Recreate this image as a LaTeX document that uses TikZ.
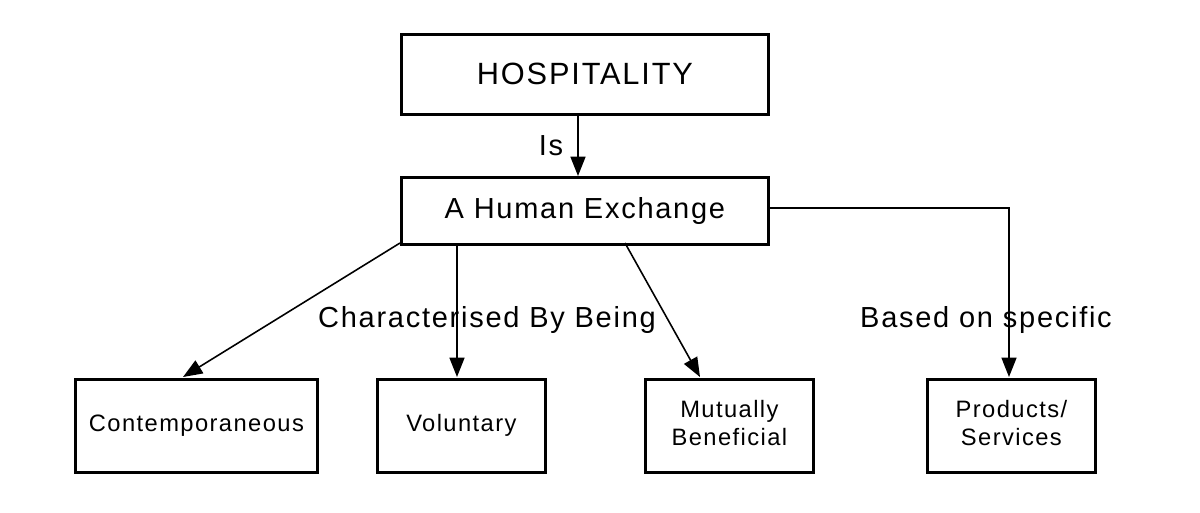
\documentclass[tikz,border=0pt]{standalone}
\usepackage{fontspec}
\setmainfont{Liberation Sans}[LetterSpace=6]
\usetikzlibrary{arrows.meta}
\newcommand{\lowtxt}[1]{\raisebox{-0.24cm}{\begin{tabular}{@{}c@{}}#1\end{tabular}}}
\begin{document}
\begin{tikzpicture}[x=0.02cm,y=-0.02cm,
  box/.style={draw,line width=1.6pt,inner sep=0pt,anchor=north west},
  small/.style={font=\fontsize{13.5}{16}\selectfont},
  big/.style={font=\fontsize{16.5}{20}\selectfont},
  arr/.style={line width=0.9pt,-{Triangle[length=11pt,width=8.5pt]}}]
\useasboundingbox (0,0) rectangle (1200,512);
\node[box,minimum width=367*0.02cm,minimum height=80*0.02cm,font=\fontsize{17.5}{21}\selectfont] (hosp) at (400,33) {HOSPITALITY};
\node[box,minimum width=367*0.02cm,minimum height=67*0.02cm,big] (hx) at (400,176) {A Human Exchange};
\node[box,minimum width=242*0.02cm,minimum height=93*0.02cm,small] (c) at (74,378) {\lowtxt{Contemporaneous}};
\node[box,minimum width=168*0.02cm,minimum height=93*0.02cm,small] (v) at (376,378) {\lowtxt{Voluntary}};
\node[box,minimum width=168*0.02cm,minimum height=93*0.02cm,small] (m) at (644,378) {\lowtxt{Mutually\\Beneficial}};
\node[box,minimum width=168*0.02cm,minimum height=93*0.02cm,small] (p) at (926,378) {\lowtxt{Products/\\Services}};
\coordinate (h1) at (578,113); \coordinate (h2) at (578,176);
\coordinate (a1) at (400,243); \coordinate (a2) at (457,243); \coordinate (a3) at (625,243); \coordinate (a4) at (767,208);
\coordinate (c1) at (183,377); \coordinate (v1) at (457,377); \coordinate (m1) at (700,377); \coordinate (p1) at (1009,377); \coordinate (k) at (1009,208);
\draw[arr] (h1) -- (h2);
\draw[arr] (a1) -- (c1);
\draw[arr] (a2) -- (v1);
\draw[arr] (a3) -- (m1);
\draw[arr] (a4) -- (k) -- (p1);
\node[big] (is) at (551,146) {Is};
\node[big] (cb) at (487,320) {Characterised By Being};
\node[big] (bs) at (986,320) {Based on specific};
\end{tikzpicture}
\end{document}
